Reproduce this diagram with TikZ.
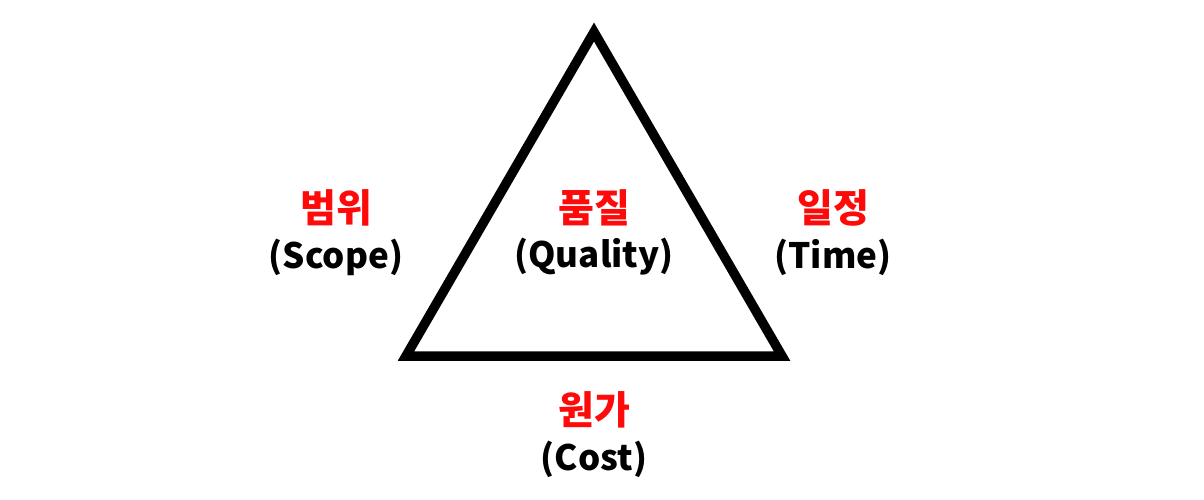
\documentclass[tikz,border=0pt]{standalone}
\usepackage{fontspec}
\newfontfamily\krfont{Noto Sans CJK KR}
\definecolor{labred}{HTML}{FF0A0A}
\begin{document}
\begin{tikzpicture}[x=1pt,y=1pt,
  kor/.style={font=\krfont\bfseries\fontsize{39}{44}\selectfont, text=labred, inner sep=0pt},
  eng/.style={font=\krfont\bfseries\fontsize{35}{40}\selectfont, text=black, inner sep=0pt}]
\useasboundingbox (0,0) rectangle (1204,499);
\fill[white] (0,0) rectangle (1204,499);
\coordinate (A) at (594,467);
\coordinate (B) at (406,143);
\coordinate (C) at (782,143);
\draw[line width=9.5pt, line join=miter] (A) -- (B) -- (C) -- cycle;
\node[kor] (k1) at (336,291) {범위};
\node[eng] (e1) at (336,242) {(Scope)};
\node[kor] (k2) at (594,291) {품질};
\node[eng] (e2) at (594,242) {(Quality)};
\node[kor] (k3) at (833,291) {일정};
\node[eng] (e3) at (833,242) {(Time)};
\node[kor] (k4) at (594,89) {원가};
\node[eng] (e4) at (594,40) {(Cost)};
\end{tikzpicture}
\end{document}
